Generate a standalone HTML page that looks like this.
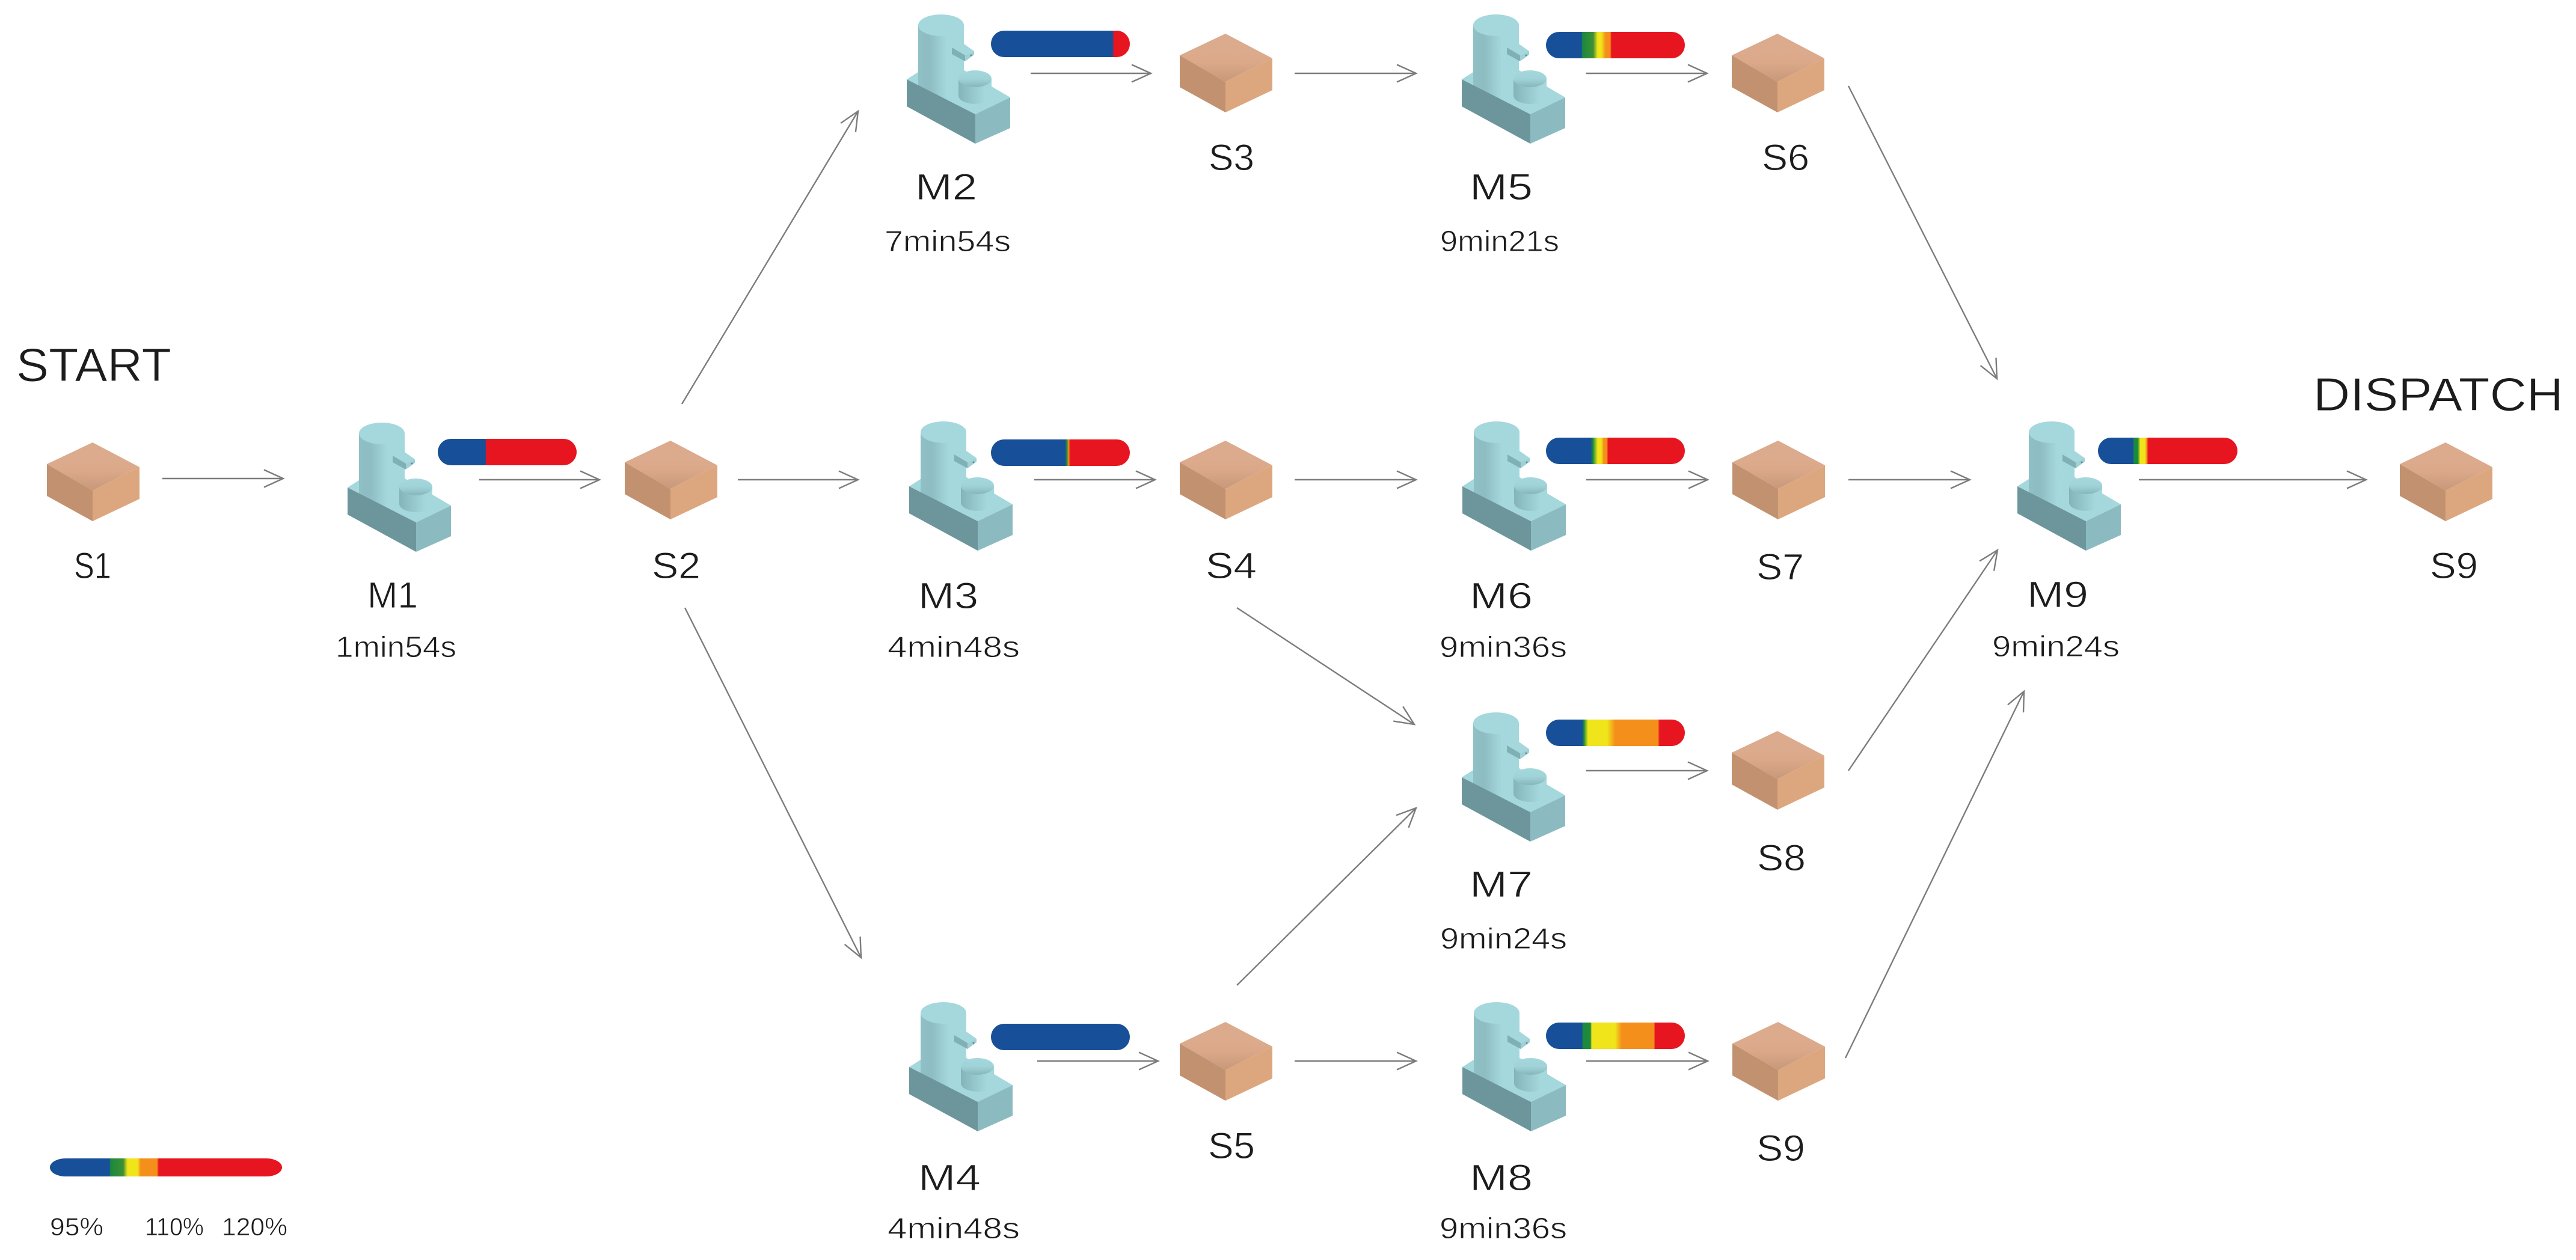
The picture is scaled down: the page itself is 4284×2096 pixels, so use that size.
<!DOCTYPE html>
<html><head><meta charset="utf-8"><title>Process flow</title>
<style>
html,body{margin:0;padding:0;background:#fff}
svg{display:block}
text{font-family:"Liberation Sans",sans-serif;fill:#1c1c1c;stroke:#fff;stroke-width:.9px}
.n{font-size:61px}.t{font-size:49px}.h{font-size:78px}.l{font-size:42px;stroke-width:.7px}
.a{fill:none;stroke:#7c7c7c;stroke-width:2.4;marker-end:url(#ah)}
</style></head><body>
<svg width="4284" height="2096" viewBox="0 0 4284 2096" xmlns="http://www.w3.org/2000/svg">
<defs>
<marker id="ah" viewBox="-36 -18 40 36" markerWidth="40" markerHeight="36" refX="0" refY="0" orient="auto" markerUnits="userSpaceOnUse"><path d="M-32,-14.5 L0,0 L-32,14.5" fill="none" stroke="#7c7c7c" stroke-width="2.4"/></marker>
<linearGradient id="ct" gradientUnits="userSpaceOnUse" x1="0" y1="30" x2="0" y2="80"><stop offset="0" stop-color="#dcaa8c"/><stop offset=".35" stop-color="#dba98a"/><stop offset="1" stop-color="#c8987a"/></linearGradient>
<linearGradient id="cy" x1="0" x2="1" y1="0" y2="0"><stop offset="0" stop-color="#8fc0c5"/><stop offset=".25" stop-color="#8ebdc2"/><stop offset=".62" stop-color="#a4d8dd"/><stop offset="1" stop-color="#a4d8dd"/></linearGradient>
<linearGradient id="sc" x1="0" x2="1" y1="0" y2="0"><stop offset="0" stop-color="#84b4ba"/><stop offset=".8" stop-color="#a4d8dd"/></linearGradient>
<linearGradient id="st" x1="0" x2="0" y1="0" y2="1"><stop offset="0" stop-color="#a4d8dd"/><stop offset=".5" stop-color="#a0d3d8"/><stop offset="1" stop-color="#86b6bb"/></linearGradient>
<symbol id="cube" overflow="visible" width="1" height="1">
<polygon points="0,0 78,41 0,80 -76,36" fill="url(#ct)"/>
<polygon points="-76,36 0,80 0,131 -76,89" fill="#c29270"/>
<polygon points="78,41 78,94 0,131 0,80" fill="#dca77f"/>
</symbol>
<symbol id="mach" overflow="visible" width="1" height="1">
<polygon points="0,108 58,71 172,138 114,166" fill="#a4d8dd"/>
<path d="M19,18 V125 A38,18 0 0 0 95,125 V18 Z" fill="url(#cy)"/>
<ellipse cx="57" cy="18" rx="38" ry="18" fill="#a4d8dd"/>
<polygon points="0,108 114,166 114,215 0,153" fill="#6d969c"/>
<polygon points="172,138 172,189 114,215 114,166" fill="#8bbbc0"/>
<polygon points="95,49 112,61 97,68 75,55 80,48" fill="#a4d8dd"/>
<polygon points="75,55 97,68 97,78 75,66" fill="#7fb0b5"/>
<polygon points="97,68 112,61 112,67 97,78" fill="#9fd0d5"/>
<circle cx="107" cy="68" r="1.5" fill="#5f8a90"/>
<path d="M86,107 V135 A27.5,14 0 0 0 141,135 V107 Z" fill="url(#sc)"/>
<ellipse cx="113.5" cy="107" rx="27.5" ry="14" fill="url(#st)"/>
</symbol>
<linearGradient id="p1"><stop offset=".343" stop-color="#174f98"/><stop offset=".349" stop-color="#e71520"/></linearGradient>
<linearGradient id="p2"><stop offset=".875" stop-color="#174f98"/><stop offset=".885" stop-color="#e71520"/></linearGradient>
<linearGradient id="p3"><stop offset=".533" stop-color="#174f98"/><stop offset=".545" stop-color="#1a8a3c"/><stop offset=".56" stop-color="#f48f1c"/><stop offset=".571" stop-color="#e71520"/></linearGradient>
<linearGradient id="p5"><stop offset=".255" stop-color="#174f98"/><stop offset=".264" stop-color="#1a8a3c"/><stop offset=".34" stop-color="#3f8f35"/><stop offset=".372" stop-color="#f0e41a"/><stop offset=".398" stop-color="#f0e41a"/><stop offset=".43" stop-color="#f48f1c"/><stop offset=".462" stop-color="#f48f1c"/><stop offset=".472" stop-color="#e71520"/></linearGradient>
<linearGradient id="p6"><stop offset=".322" stop-color="#174f98"/><stop offset=".338" stop-color="#1a8a3c"/><stop offset=".372" stop-color="#f0e41a"/><stop offset=".398" stop-color="#f0e41a"/><stop offset=".416" stop-color="#f48f1c"/><stop offset=".44" stop-color="#f48f1c"/><stop offset=".446" stop-color="#e71520"/></linearGradient>
<linearGradient id="p7"><stop offset=".26" stop-color="#174f98"/><stop offset=".273" stop-color="#1a8a3c"/><stop offset=".303" stop-color="#f0e41a"/><stop offset=".44" stop-color="#f0e41a"/><stop offset=".498" stop-color="#f48f1c"/><stop offset=".805" stop-color="#f48f1c"/><stop offset=".818" stop-color="#e71520"/></linearGradient>
<linearGradient id="p8"><stop offset=".258" stop-color="#174f98"/><stop offset=".268" stop-color="#1a8a3c"/><stop offset=".32" stop-color="#1f8a3c"/><stop offset=".33" stop-color="#f0e41a"/><stop offset=".498" stop-color="#f0e41a"/><stop offset=".545" stop-color="#f48f1c"/><stop offset=".778" stop-color="#f48f1c"/><stop offset=".785" stop-color="#e71520"/></linearGradient>
<linearGradient id="p9"><stop offset=".25" stop-color="#174f98"/><stop offset=".26" stop-color="#1a8a3c"/><stop offset=".285" stop-color="#1a8a3c"/><stop offset=".303" stop-color="#f0e41a"/><stop offset=".337" stop-color="#f0e41a"/><stop offset=".35" stop-color="#f48f1c"/><stop offset=".36" stop-color="#e71520"/></linearGradient>
<linearGradient id="pl"><stop offset=".256" stop-color="#174f98"/><stop offset=".262" stop-color="#1a8a3c"/><stop offset=".316" stop-color="#3f8f35"/><stop offset=".334" stop-color="#f0e41a"/><stop offset=".378" stop-color="#f0e41a"/><stop offset=".391" stop-color="#f48f1c"/><stop offset=".461" stop-color="#f48f1c"/><stop offset=".469" stop-color="#e71520"/></linearGradient>
</defs>

<path class="a" d="M270,796H471"/>
<path class="a" d="M797,798H997"/>
<path class="a" d="M1134,672L1427,185"/>
<path class="a" d="M1227,798H1427"/>
<path class="a" d="M1139,1011L1432,1593"/>
<path class="a" d="M1714,122H1914"/>
<path class="a" d="M2153,122H2355"/>
<path class="a" d="M2638,122H2839"/>
<path class="a" d="M3074,143L3321,630"/>
<path class="a" d="M1720,798H1921"/>
<path class="a" d="M2153,798H2355"/>
<path class="a" d="M2638,798H2840"/>
<path class="a" d="M3074,798H3276"/>
<path class="a" d="M3557,798H3935"/>
<path class="a" d="M2057,1011L2352,1205"/>
<path class="a" d="M2057,1639L2355,1344"/>
<path class="a" d="M2638,1282H2839"/>
<path class="a" d="M3074,1282L3322,915"/>
<path class="a" d="M1725,1765H1926"/>
<path class="a" d="M2153,1765H2355"/>
<path class="a" d="M2638,1765H2840"/>
<path class="a" d="M3069,1760L3366,1150"/>

<use href="#cube" x="154" y="736"/>
<use href="#cube" x="1115" y="733"/>
<use href="#cube" x="2038" y="56"/>
<use href="#cube" x="2038" y="733"/>
<use href="#cube" x="2038" y="1700"/>
<use href="#cube" x="2956" y="56"/>
<use href="#cube" x="2957" y="733"/>
<use href="#cube" x="2956" y="1216"/>
<use href="#cube" x="2957" y="1700"/>
<use href="#cube" x="4067" y="736"/>

<use href="#mach" x="578" y="703"/>
<use href="#mach" x="1508" y="24"/>
<use href="#mach" x="1512" y="701"/>
<use href="#mach" x="1512" y="1667"/>
<use href="#mach" x="2431" y="24"/>
<use href="#mach" x="2432" y="701"/>
<use href="#mach" x="2431" y="1185"/>
<use href="#mach" x="2432" y="1667"/>
<use href="#mach" x="3355" y="701"/>

<rect x="728" y="730" width="231" height="44" rx="22" fill="url(#p1)"/>
<rect x="1648" y="51" width="231" height="44" rx="22" fill="url(#p2)"/>
<rect x="1648" y="731" width="231" height="44" rx="22" fill="url(#p3)"/>
<rect x="1648" y="1703" width="231" height="44" rx="22" fill="#174f98"/>
<rect x="2571" y="53" width="231" height="44" rx="22" fill="url(#p5)"/>
<rect x="2571" y="728" width="231" height="44" rx="22" fill="url(#p6)"/>
<rect x="2571" y="1197" width="231" height="44" rx="22" fill="url(#p7)"/>
<rect x="2571" y="1701" width="231" height="44" rx="22" fill="url(#p8)"/>
<rect x="3489" y="728" width="232" height="44" rx="22" fill="url(#p9)"/>
<rect x="83" y="1927" width="386" height="30" rx="26" ry="15" fill="url(#pl)"/>

<text class="h" x="27" y="634" textLength="258" lengthAdjust="spacingAndGlyphs">START</text>
<text class="h" x="3847" y="683" textLength="416" lengthAdjust="spacingAndGlyphs">DISPATCH</text>

<text class="n" x="123" y="962" textLength="62" lengthAdjust="spacingAndGlyphs">S1</text>
<text class="n" x="1084" y="962" textLength="81" lengthAdjust="spacingAndGlyphs">S2</text>
<text class="n" x="2010" y="283" textLength="76" lengthAdjust="spacingAndGlyphs">S3</text>
<text class="n" x="2005" y="962" textLength="85" lengthAdjust="spacingAndGlyphs">S4</text>
<text class="n" x="2009" y="1927" textLength="78" lengthAdjust="spacingAndGlyphs">S5</text>
<text class="n" x="2930" y="283" textLength="79" lengthAdjust="spacingAndGlyphs">S6</text>
<text class="n" x="2921" y="964" textLength="79" lengthAdjust="spacingAndGlyphs">S7</text>
<text class="n" x="2922" y="1448" textLength="81" lengthAdjust="spacingAndGlyphs">S8</text>
<text class="n" x="2921" y="1931" textLength="81" lengthAdjust="spacingAndGlyphs">S9</text>
<text class="n" x="4041" y="962" textLength="80" lengthAdjust="spacingAndGlyphs">S9</text>

<text class="n" x="611" y="1011" textLength="84" lengthAdjust="spacingAndGlyphs">M1</text>
<text class="n" x="1522" y="332" textLength="103" lengthAdjust="spacingAndGlyphs">M2</text>
<text class="n" x="1527" y="1012" textLength="100" lengthAdjust="spacingAndGlyphs">M3</text>
<text class="n" x="1527" y="1980" textLength="104" lengthAdjust="spacingAndGlyphs">M4</text>
<text class="n" x="2444" y="332" textLength="105" lengthAdjust="spacingAndGlyphs">M5</text>
<text class="n" x="2444" y="1012" textLength="105" lengthAdjust="spacingAndGlyphs">M6</text>
<text class="n" x="2444" y="1492" textLength="105" lengthAdjust="spacingAndGlyphs">M7</text>
<text class="n" x="2444" y="1980" textLength="105" lengthAdjust="spacingAndGlyphs">M8</text>
<text class="n" x="3371" y="1010" textLength="102" lengthAdjust="spacingAndGlyphs">M9</text>

<text class="t" x="558" y="1093" textLength="201" lengthAdjust="spacingAndGlyphs">1min54s</text>
<text class="t" x="1471" y="418" textLength="210" lengthAdjust="spacingAndGlyphs">7min54s</text>
<text class="t" x="1476" y="1093" textLength="220" lengthAdjust="spacingAndGlyphs">4min48s</text>
<text class="t" x="1476" y="2060" textLength="220" lengthAdjust="spacingAndGlyphs">4min48s</text>
<text class="t" x="2395" y="418" textLength="198" lengthAdjust="spacingAndGlyphs">9min21s</text>
<text class="t" x="2394" y="1093" textLength="212" lengthAdjust="spacingAndGlyphs">9min36s</text>
<text class="t" x="2395" y="1578" textLength="211" lengthAdjust="spacingAndGlyphs">9min24s</text>
<text class="t" x="2394" y="2060" textLength="212" lengthAdjust="spacingAndGlyphs">9min36s</text>
<text class="t" x="3313" y="1092" textLength="212" lengthAdjust="spacingAndGlyphs">9min24s</text>

<text class="l" x="83" y="2055" textLength="89" lengthAdjust="spacingAndGlyphs">95%</text>
<text class="l" x="241" y="2055" textLength="98" lengthAdjust="spacingAndGlyphs">110%</text>
<text class="l" x="369" y="2055" textLength="109" lengthAdjust="spacingAndGlyphs">120%</text>
</svg>
</body></html>
